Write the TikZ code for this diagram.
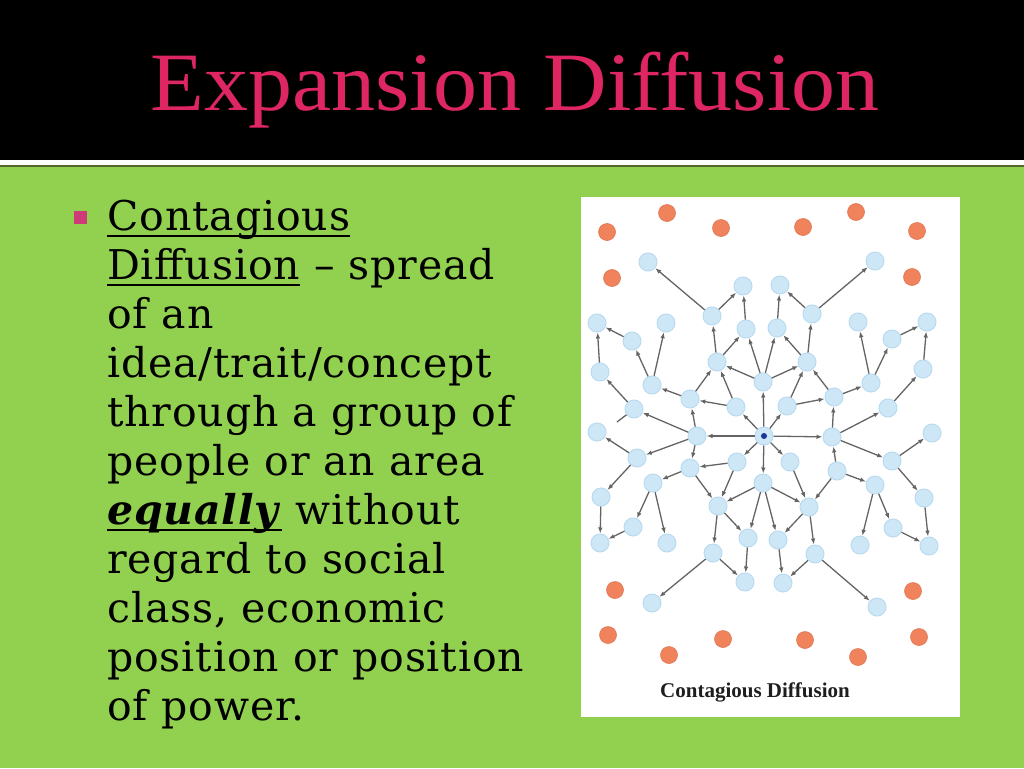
\documentclass[tikz,border=0pt]{standalone}
\usepackage{fontspec}
\setmainfont{DejaVu Serif}[LetterSpace=2.2]
\newfontfamily\titlefont{Liberation Serif}
\newfontfamily\capfont{Liberation Serif}
\usetikzlibrary{arrows.meta}
\definecolor{slidegreen}{RGB}{146,208,80}
\definecolor{rulegreen}{RGB}{84,104,44}
\definecolor{titlepink}{RGB}{222,38,98}
\definecolor{bulletpink}{RGB}{205,60,120}
\definecolor{nodeblue}{RGB}{206,231,246}
\definecolor{nodeedge}{RGB}{186,219,239}
\definecolor{nodeorange}{RGB}{240,130,92}
\definecolor{edgegray}{RGB}{100,100,100}
\definecolor{hubblue}{RGB}{25,55,150}
\tikzset{>={Latex[length=6pt,width=4.5pt]}}
\tikzset{
  bnode/.style={circle,fill=nodeblue,draw=nodeedge,line width=1pt,minimum size=18pt,inner sep=0pt},
  onode/.style={circle,fill=nodeorange,draw=nodeorange!92!black,line width=0.6pt,minimum size=17pt,inner sep=0pt},
  link/.style={->,draw=edgegray,line width=1.3pt},
  bodyline/.style={anchor=base west,inner sep=0pt,font=\fontsize{41}{49}\selectfont}
}
\newsavebox{\ulbox}
\newcommand{\ulword}[1]{\sbox{\ulbox}{#1}\rlap{\rule[-7pt]{\wd\ulbox}{2pt}}\usebox{\ulbox}}

\begin{document}
\begin{tikzpicture}[x=1pt,y=-1pt]
  \useasboundingbox (0,0) rectangle (1024,768);
  % slide background
  \fill[slidegreen] (0,0) rectangle (1024,768);
  \fill[black] (0,0) rectangle (1024,160);
  \fill[white] (0,160) rectangle (1024,165);
  \fill[rulegreen] (0,165) rectangle (1024,167);
  \node[font=\fontsize{83}{90}\titlefont,text=titlepink,anchor=base,inner sep=0pt] (title) at (515,110) {\scalebox{1.06}[1]{Expansion Diffusion}};

  % bullet text
  \fill[bulletpink] (74,211) rectangle (87,224);
  \node[bodyline] (t1) at (107,230) {\ulword{Contagious}};
  \node[bodyline] (t2) at (107,279) {\ulword{Diffusion} – spread};
  \node[bodyline] (t3) at (107,328) {of an};
  \node[bodyline] (t4) at (107,377) {idea/trait/concept};
  \node[bodyline] (t5) at (107,426) {through a group of};
  \node[bodyline] (t6) at (107,475) {people or an area};
  \node[bodyline] (t7) at (107,524) {\ulword{\textbf{\textit{equally}}} without};
  \node[bodyline] (t8) at (107,573) {regard to social};
  \node[bodyline] (t9) at (107,622) {class, economic};
  \node[bodyline] (t10) at (107,671) {position or position};
  \node[bodyline] (t11) at (107,720) {of power.};

  % picture panel
  \fill[white] (581,197) rectangle (960,717);
  \foreach \n/\x/\y in {1/607/232,2/667/213,3/721/228,4/612/278,5/803/227,6/856/212,7/917/231,8/912/277,
      9/615/590,10/608/635,11/669/655,12/723/639,13/913/591,14/805/640,15/858/657,16/919/637}
    \node[onode] (o\n) at (\x,\y) {};
  \node[bnode] (c) at (764,436) {};
  \fill[hubblue] (c) circle (3pt);
  \foreach \n/\x/\y in {1/648/262,2/743/286,3/712/316,4/746/329,5/597/323,6/632/341,7/666/323,8/600/372,
      9/652/385,10/717/362,11/763/382,12/690/399,13/736/407,14/634/409,15/597/432,16/697/436,
      17/780/285,18/875/261,19/812/314,20/777/328,21/858/322,22/892/339,23/927/322,24/807/362,
      25/923/369,26/871/383,27/787/406,28/834/397,29/888/408,30/932/433,31/832/437,
      32/637/458,33/690/468,34/737/462,35/653/483,36/763/483,37/601/497,38/718/506,39/633/527,
      40/600/543,41/667/543,42/748/538,43/713/553,44/745/582,45/652/603,
      46/790/462,47/837/471,48/892/461,49/809/507,50/875/485,51/924/498,52/778/540,53/860/545,
      54/893/528,55/929/546,56/815/554,57/783/583,58/877/607}
    \node[bnode] (b\n) at (\x,\y) {};

  % spreading links
  \foreach \b in {16,11,13,31,27,34,36,46}
    \draw[link] (c) -- (b\b);
  \foreach \a/\b in {3/1,3/2,4/2,10/3,10/4,11/4,11/10,12/10,13/10,13/12,9/7,9/6,12/9,6/5,8/5,14/8,16/14,16/12,
      19/17,19/18,24/19,20/17,24/20,11/24,11/20,27/24,28/24,27/28,31/28,28/26,26/21,26/22,22/23,25/23,29/25,31/29,
      16/32,16/33,34/33,33/35,33/38,34/38,36/38,36/42,38/42,38/43,43/44,42/44,43/45,35/39,35/41,39/40,37/40,32/37,32/15,
      31/48,48/30,48/51,51/55,47/31,47/50,47/49,46/49,50/53,50/54,54/55,49/52,49/56,36/49,36/52,52/57,56/57,56/58}
    \draw[link] (b\a) -- (b\b);
  \coordinate (s14) at (617,422);
  \draw[edgegray,line width=1.3pt] (b14) -- (s14);

  \node[font=\fontsize{21}{24}\capfont\bfseries,text={rgb,255:red,30;green,30;blue,30},anchor=base,inner sep=0pt] (cap) at (755,697) {Contagious Diffusion};
\end{tikzpicture}
\end{document}
